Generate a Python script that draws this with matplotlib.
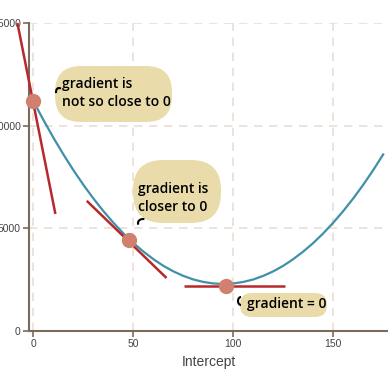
import matplotlib
matplotlib.use("Agg")
import matplotlib.pyplot as plt
import matplotlib.patches as patches
from matplotlib.transforms import IdentityTransform

# loss curve
intercept = [0, 5, 10, 15, 20, 25, 30, 35, 40, 45, 50, 55, 60, 65, 70, 75, 80, 85, 90,
             95, 100, 105, 110, 115, 120, 125, 130, 135, 140, 145, 150, 155, 160, 165,
             170, 175]
loss = [11190, 10280, 9415, 8600, 7835, 7120, 6455, 5840, 5275, 4755, 4285, 3870, 3500,
        3175, 2905, 2685, 2510, 2390, 2315, 2290, 2315, 2390, 2510, 2685, 2905, 3175,
        3500, 3870, 4285, 4755, 5275, 5840, 6455, 7120, 7835, 8600]

# points where the gradient is checked
step_x = [0, 48, 96.5]
step_y = [11200, 4450, 2190]

# tangent segments (x0, y0, x1, y1)
tangents = [
    [-8.0, 15000, 11.0, 5700],
    [26.7, 6340, 66.6, 2580],
    [75.2, 2190, 126.1, 2190],
]

notes = ["gradient is\nnot so close to 0", "gradient is\ncloser to 0", "gradient = 0"]
xticks = [0, 50, 100, 150]
yticks = [0, 5000, 10000, 15000]

DPI = 100
fig = plt.figure(figsize=(3.88, 3.88), dpi=DPI)
ax = fig.add_axes([29 / 388, 57 / 388, 359 / 388, 308 / 388])

spine_col = "#7b6b5b"
ax.set_xlim(-2.2, 177.4)
ax.set_ylim(0, 15000)
ax.set_xticks(xticks)
ax.set_yticks(yticks)
ax.grid(True, color="#e9dfd5", linestyle=(0, (5, 4)), linewidth=1.2)
ax.set_axisbelow(True)
for s in ["top", "right"]:
    ax.spines[s].set_visible(False)
for s in ["left", "bottom"]:
    ax.spines[s].set_color(spine_col)
    ax.spines[s].set_linewidth(1.5)
ax.tick_params(colors=spine_col, length=4, width=1.2, labelsize=7.5, labelcolor="#444444", pad=2)
ax.set_xlabel("Intercept", fontsize=10, color="#444444", family="Liberation Sans", labelpad=4)
for lbl in ax.get_xticklabels() + ax.get_yticklabels():
    lbl.set_family("Liberation Sans")

ax.plot(intercept, loss, color="#3f90a8", linewidth=1.6, zorder=3)
for x0, y0, x1, y1 in tangents:
    ax.plot([x0, x1], [y0, y1], color="#b8282b", linewidth=1.8, zorder=4, clip_on=False,
            solid_capstyle="butt")
ax.plot(step_x, step_y, linestyle=" ", marker="o", markersize=10, color="#d1806f",
        zorder=5, clip_on=False)

# yellow blobs behind the handwritten notes (display pixels, origin bottom-left)
H = 388
blobs = [(55, H - 122, 117, 56, 26), (133, H - 223, 88, 63, 30), (240, H - 317, 87, 24, 12)]
for bx, by, bw, bh, r in blobs:
    fig.add_artist(patches.FancyBboxPatch(
        (bx, by), bw, bh, boxstyle=f"round,pad=0,rounding_size={r}",
        transform=IdentityTransform(), facecolor="#e9dcaa", edgecolor="none", zorder=6))

note_pos = [(62, H - 93), (138, H - 198), (247, H - 304)]
for (tx, ty), txt in zip(note_pos, notes):
    fig.text(tx / 388, ty / 388, txt, fontsize=10, family="Open Sans", fontweight="semibold",
             color="black", va="center", ha="left", linespacing=1.3, zorder=7)

# little hooks pointing at the marks
hooks = [((59, H - 92), 6, 8, 60, 200), ((143, H - 223), 10, 8, 70, 200),
         ((241, H - 301), 6, 8, 90, 270)]
for (hx, hy), w, h, t1, t2 in hooks:
    fig.add_artist(patches.Arc((hx, hy), w, h, theta1=t1, theta2=t2,
                               transform=IdentityTransform(), color="black", linewidth=1.5,
                               zorder=7))

fig.savefig("out.png", dpi=DPI)
